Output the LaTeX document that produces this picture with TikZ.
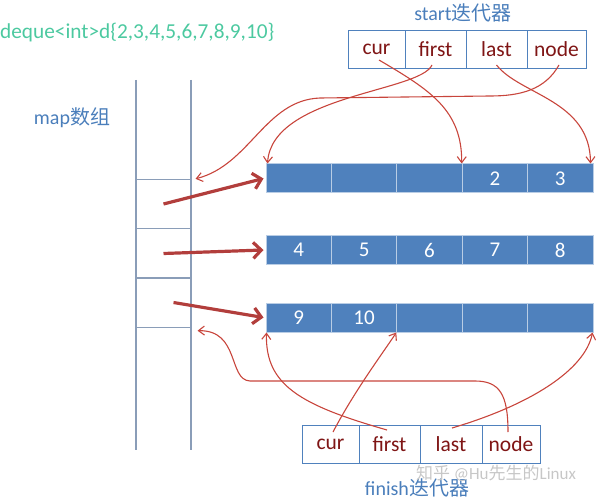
\documentclass[tikz,border=0pt]{standalone}
\usepackage{fontspec}
\setmainfont{Carlito}
\newfontfamily\cjk{Noto Sans CJK SC}
\usetikzlibrary{arrows.meta}
\definecolor{cellblue}{HTML}{4F81BD}
\definecolor{cellline}{HTML}{B9CDE5}
\definecolor{boxblue}{HTML}{4F81BD}
\definecolor{lblred}{HTML}{7F1515}
\definecolor{arrred}{HTML}{C8453C}
\definecolor{thickred}{HTML}{B23E3C}
\definecolor{mint}{HTML}{4CC9A0}
\definecolor{titleblue}{HTML}{4A7EBB}
\definecolor{mapline}{HTML}{8A9DB8}
\begin{document}
\begin{tikzpicture}[x=1pt,y=-1pt,
  cell/.style={draw=cellline, line width=1pt, fill=cellblue, minimum width=65.4pt, minimum height=29pt, inner sep=0pt, text=white, font=\fontsize{21}{25}\selectfont},
  itbox/.style={draw=boxblue, line width=0.9pt, fill=white, minimum height=38pt, inner sep=0pt, text=lblred, font=\fontsize{21.5}{25}\selectfont},
  slot/.style={draw=mapline, line width=1.1pt, minimum width=55pt, minimum height=49.3pt, inner sep=0pt},
  ptr/.style={draw=arrred, line width=1.1pt, -{Straight Barb[length=6pt,width=9pt]}},
  maparrow/.style={draw=thickred, line width=3.2pt, -{Straight Barb[length=8pt,width=16pt]}},
  title/.style={text=titleblue, font=\fontsize{20}{24}\selectfont, inner sep=0pt}
]
\useasboundingbox (0,0) rectangle (600,500);
% texts
\node[anchor=west, text=mint, font=\fontsize{21.3}{25}\selectfont, inner sep=0pt] (decl) at (0,33) {deque<int>d\{2,3,4,5,6,7,8,9,10\}};
\node[title] (stitle) at (463,13) {start{\cjk 迭代器}};
\node[title] (ftitle) at (417,488) {finish{\cjk 迭代器}};
\node[title] (maptitle) at (72,118) {map{\cjk 数组}};
% map array
\draw[mapline, line width=1.1pt] (136,80) -- (136,450);
\draw[mapline, line width=1.1pt] (191,80) -- (191,450);
\node[slot] (m1) at (163.5,204) {};
\node[slot] (m2) at (163.5,253.5) {};
\node[slot] (m3) at (163.5,302.5) {};
% buffers
\foreach \r/\y in {1/178.5,2/250,3/317.5}{
  \foreach \c in {1,...,5}{
    \node[cell] (r\r c\c) at ({266+65.4*(\c-0.5)},\y) {};
  }
}
\node[cell, draw=none, fill=none] at (r1c4) {2};
\node[cell, draw=none, fill=none] at (r1c5) {3};
\node[cell, draw=none, fill=none] at (r2c1) {4};
\node[cell, draw=none, fill=none] at (r2c2) {5};
\node[cell, draw=none, fill=none] at (r2c3) {6};
\node[cell, draw=none, fill=none] at (r2c4) {7};
\node[cell, draw=none, fill=none] at (r2c5) {8};
\node[cell, draw=none, fill=none] at (r3c1) {9};
\node[cell, draw=none, fill=none] at (r3c2) {10};
% start iterator
\node[itbox, minimum width=57pt] (scur) at (376.5,49) {cur};
\node[itbox, minimum width=61pt] (sfirst) at (435.5,49) {first};
\node[itbox, minimum width=61pt] (slast) at (496.5,49) {last};
\node[itbox, minimum width=59pt] (snode) at (556.5,49) {node};
% finish iterator
\node[itbox, minimum width=57pt] (fcur) at (330.5,444) {cur};
\node[itbox, minimum width=61pt] (ffirst) at (389.5,444) {first};
\node[itbox, minimum width=62pt] (flast) at (451,444) {last};
\node[itbox, minimum width=58pt] (fnode) at (511,444) {node};
% watermark
\node[text=black!22, font=\fontsize{17}{20}\selectfont, inner sep=0pt] (wm) at (496,473) {{\cjk 知乎} @Hu{\cjk 先生的}Linux};
% map -> buffers
\draw[maparrow] (m1.center) -- ([xshift=-2pt]r1c1.west);
\draw[maparrow] (m2.center) -- ([xshift=-2pt]r2c1.west);
\draw[maparrow] ([xshift=10pt]m3.center) -- ([xshift=-2pt]r3c1.west);
% start pointers
\draw[ptr] ([xshift=2.5pt,yshift=-11pt]scur.center) .. controls (430,90) and (462,110) .. (r1c4.north west);
\draw[ptr] ([xshift=-3.5pt,yshift=-16pt]sfirst.center) .. controls (420,92) and (272,95) .. ([xshift=2pt]r1c1.north west);
\draw[ptr] ([yshift=-16pt]slast.center) .. controls (520,95) and (590,100) .. ([xshift=-3pt]r1c5.north east);
\draw[ptr] ([xshift=2.5pt,yshift=-16pt]snode.center) .. controls (545,90) and (520,96) .. (490,96) -- (320,98) .. controls (265,100) and (250,165) .. ([xshift=4pt]m1.north east);
% finish pointers
\draw[ptr] ([xshift=2.5pt,yshift=12pt]fcur.center) .. controls (355,390) and (385,350) .. (r3c3.south west);
\draw[ptr] ([xshift=-2.5pt,yshift=14pt]ffirst.center) .. controls (300,405) and (265,385) .. ([xshift=1pt]r3c1.south west);
\draw[ptr] ([xshift=1pt,yshift=16pt]flast.center) .. controls (530,405) and (585,370) .. ([xshift=-1pt]r3c5.south east);
\draw[ptr] ([xshift=-3pt,yshift=12pt]fnode.center) .. controls (508,395) and (500,381) .. (475,381) -- (250,381) .. controls (228,380) and (240,330) .. ([xshift=6pt,yshift=-3pt]m3.south east);
\end{tikzpicture}
\end{document}
